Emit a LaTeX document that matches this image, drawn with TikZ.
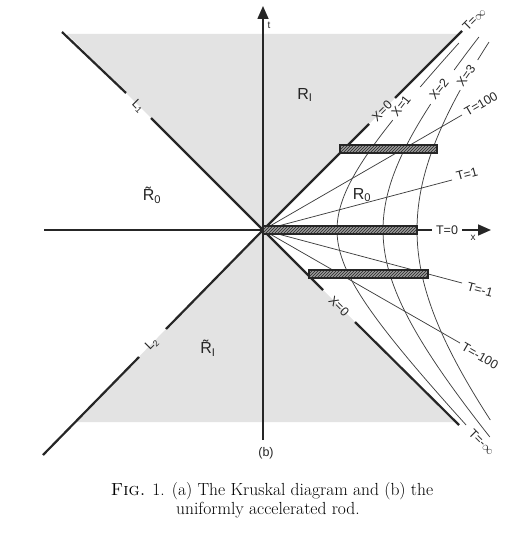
\documentclass[tikz,border=0pt]{standalone}
\usepackage{fontspec}
\newfontfamily\lab{Liberation Sans}
\usetikzlibrary{arrows.meta,patterns}
\begin{document}
\begin{tikzpicture}[x=1pt,y=-1pt,
  cone/.style={line width=2.2pt, draw=black!85},
  thinline/.style={line width=0.75pt, draw=black!75},
  axisline/.style={line width=1.6pt, draw=black!85},
  shade/.style={fill=black!11},
  lbl/.style={font=\lab\fontsize{12.5}{13}\selectfont, inner sep=0.5pt, text=black!85},
  small/.style={font=\lab\fontsize{10}{10}\selectfont, inner sep=0.5pt, text=black!85},
  reg/.style={font=\lab\fontsize{16}{16}\selectfont, inner sep=0.5pt, text=black!85},
  captext/.style={font=\fontsize{17.5}{20}\selectfont, inner sep=0pt, anchor=base},
  rod/.style={draw=black!85, line width=1.3pt, fill=black!40, postaction={pattern=north east lines, pattern color=black!85}},
  tip/.style={-{Triangle[length=13pt,width=11pt]}},
]
\useasboundingbox (0,0) rectangle (520,535);

% key points
\coordinate (O) at (263,230);
\coordinate (UL) at (67,34);
\coordinate (UR) at (459,34);
\coordinate (LL) at (75,422);
\coordinate (LR) at (455,422);

% shaded cones
\fill[shade] (O) -- (UL) -- (UR) -- cycle;
\fill[shade] (O) -- (LL) -- (LR) -- cycle;

% T = const lines (thin)
\coordinate (T1) at (452,180);
\coordinate (T100) at (462,115);
\coordinate (Tm1) at (462,283);
\coordinate (Tm100) at (460,343);
\draw[thinline] (O) -- (T1);
\draw[thinline] (O) -- (T100);
\draw[thinline] (O) -- (Tm1);
\draw[thinline] (O) -- (Tm100);

% X = const curves
\draw[thinline] plot[domain=-1.95:1.10, samples=70, variable=\s] ({263+100*sqrt(0.74^2+(0.97*\s)^2)}, {230-100*\s});
\draw[thinline] plot[domain=1.43:1.87, samples=20, variable=\s] ({263+100*sqrt(0.74^2+(0.97*\s)^2)}, {230-100*\s});
\draw[thinline] plot[domain=-2.07:1.26, samples=70, variable=\s] ({263+100*sqrt(1.20^2+(0.93*\s)^2)}, {230-100*\s});
\draw[thinline] plot[domain=1.60:1.93, samples=20, variable=\s] ({263+100*sqrt(1.20^2+(0.93*\s)^2)}, {230-100*\s});
\draw[thinline] plot[domain=-1.90:1.40, samples=70, variable=\s] ({263+100*sqrt(1.54^2+(0.88*\s)^2)}, {230-100*\s});
\draw[thinline] plot[domain=1.70:1.88, samples=20, variable=\s] ({263+100*sqrt(1.54^2+(0.88*\s)^2)}, {230-100*\s});

% light cone lines
\coordinate (L1a) at (62,32);
\coordinate (L1g1) at (126,93);
\coordinate (L1g2) at (151,118);
\draw[cone] (L1a) -- (L1g1);
\draw[cone] (L1g2) -- (O);
\coordinate (L2a) at (43,455);
\coordinate (L2g1) at (166,329);
\coordinate (L2g2) at (139,357);
\draw[cone] (O) -- (L2g1);
\draw[cone] (L2g2) -- (L2a);
\coordinate (U1) at (369,124);
\coordinate (U2) at (395,98);
\coordinate (Uend) at (462,31);
\draw[cone] (O) -- (U1);
\draw[cone] (U2) -- (Uend);
\coordinate (D1) at (323,290);
\coordinate (D2) at (355,322);
\coordinate (Dend) at (459,425);
\draw[cone] (O) -- (D1);
\draw[cone] (D2) -- (Dend);

% axes
\coordinate (tb) at (263,440);
\coordinate (tt) at (263,6);
\draw[axisline, tip] (tb) -- (tt);
\coordinate (xl) at (44,230);
\coordinate (xr1) at (417,230);
\coordinate (xr2) at (432,230);
\coordinate (xr3) at (462,230);
\coordinate (xr4) at (491,230);
\draw[axisline] (xl) -- (O);
\draw[axisline] (xr1) -- (xr2);
\draw[axisline, tip] (xr3) -- (xr4);

% rods
\draw[rod] (340,145) rectangle (437,153);
\draw[rod] (263,226) rectangle (417,234);
\draw[rod] (309,270) rectangle (428,278);

% labels
\node[small] (tlab) at (269,25) {t};
\node[small] (xlab) at (473,238) {x};
\node[lbl] (lT0) at (447,230) {T=0};
\node[lbl, rotate=15] (lT1) at (467,174) {T=1};
\node[lbl, rotate=30] (lT100) at (481,104) {T=100};
\node[lbl, rotate=-15] (lTm1) at (480,290) {T=-1};
\node[lbl, rotate=-30] (lTm100) at (480,356) {T=-100};
\node[lbl, rotate=45] (lTinf) at (474,19) {T=$\infty$};
\node[lbl, rotate=-45] (lTminf) at (482,442) {T=-$\infty$};
\node[lbl, rotate=45] (lX0u) at (382,111) {X=0};
\node[lbl, rotate=-45] (lX0d) at (339,306) {X=0};
\node[lbl, rotate=52] (lX1) at (401,106) {X=1};
\node[lbl, rotate=52] (lX2) at (439,89) {X=2};
\node[lbl, rotate=55] (lX3) at (466,76) {X=3};
\node[lbl, rotate=-45] (lL1) at (138,106) {L\textsubscript{1}};
\node[lbl, rotate=45] (lL2) at (152,344) {L\textsubscript{2}};
\node[reg] (RI) at (305,95) {R\textsubscript{I}};
\node[reg] (R0) at (362,195) {R\textsubscript{0}};
\node[reg] (tR0) at (152,195) {\~R\textsubscript{0}};
\node[reg] (tRI) at (208,348) {\~R\textsubscript{I}};
\node[lbl] (blab) at (266,453) {(b)};

% caption
\node[captext] (c1) at (272,495) {\textsc{Fig.} 1. (a) The Kruskal diagram and (b) the};
\node[captext] (c2) at (268,514) {uniformly accelerated rod.};
\end{tikzpicture}
\end{document}
